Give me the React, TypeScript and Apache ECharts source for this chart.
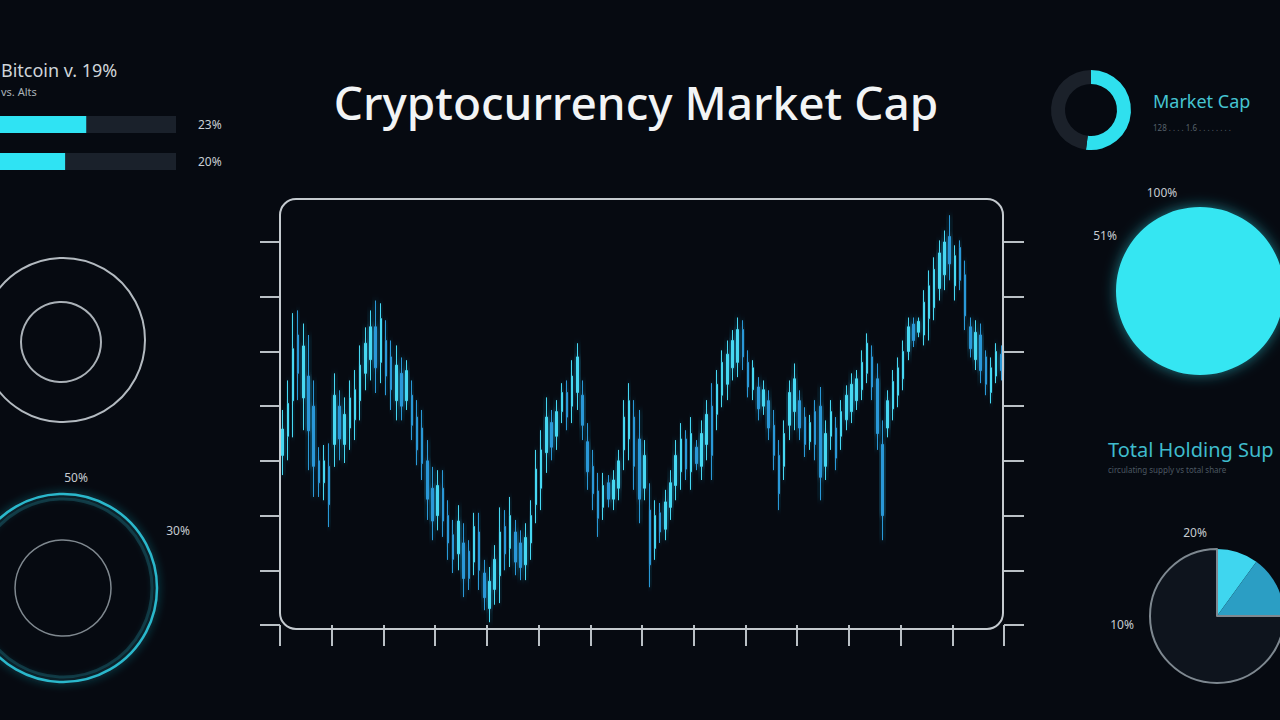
import React, { useEffect, useRef } from "react";
import * as echarts from "echarts";

// ---- Main candlestick data (value units) ----
const opens = [
  310, 345, 410, 530, 415, 455, 400, 300, 260, 290,
  330, 400, 330, 360, 375, 410, 460, 485, 545, 480,
  520, 490, 410, 460, 410, 420, 380, 360, 300, 250,
  200, 250, 200, 165, 130, 150, 135, 115, 170, 95,
  30, 65, 90, 180, 140, 170, 150, 110, 150, 220,
  250, 315, 370, 345, 390, 425, 400, 425, 420, 335,
  290, 245, 215, 260, 230, 250, 320, 340, 380, 340,
  250, 210, 140, 205, 175, 215, 255, 280, 340, 280,
  325, 290, 330, 400, 385, 420, 440, 470, 480, 540,
  480, 430, 435, 400, 410, 365, 310, 290, 365, 390,
  410, 380, 335, 390, 400, 290, 345, 360, 345, 375,
  390, 410, 430, 460, 490, 450, 330, 360, 395, 420,
  450, 500, 550, 535, 530, 560, 580, 615, 640, 710,
  620, 690, 640, 545, 485, 530, 490, 425, 455, 495,
];
const closes = [
  358, 405, 505, 460, 510, 355, 290, 260, 300, 220,
  420, 340, 385, 415, 430, 475, 515, 545, 470, 560,
  455, 430, 475, 400, 465, 365, 320, 295, 230, 190,
  255, 190, 150, 120, 190, 85, 85, 180, 100, 50,
  80, 120, 170, 130, 200, 115, 105, 160, 200, 285,
  320, 380, 325, 390, 425, 380, 455, 490, 365, 280,
  240, 195, 255, 230, 265, 300, 380, 410, 290, 230,
  310, 110, 200, 170, 225, 260, 310, 340, 285, 350,
  295, 350, 385, 310, 440, 480, 495, 520, 540, 490,
  435, 470, 395, 430, 360, 310, 240, 350, 425, 450,
  360, 330, 370, 330, 270, 350, 390, 305, 390, 420,
  440, 450, 480, 515, 435, 350, 200, 410, 445, 470,
  500, 545, 520, 555, 590, 620, 650, 680, 700, 660,
  675, 630, 565, 505, 535, 465, 440, 470, 500, 465,
];
const lows = [
  274, 301, 343, 411, 356, 283, 234, 234, 228, 179,
  289, 301, 296, 320, 338, 374, 429, 447, 424, 442,
  420, 393, 374, 374, 393, 338, 292, 265, 192, 155,
  173, 161, 119, 95, 100, 51, 64, 91, 64, 27,
  5, 37, 40, 100, 106, 91, 82, 82, 119, 186,
  210, 278, 301, 320, 369, 356, 369, 393, 338, 247,
  210, 161, 192, 215, 210, 228, 283, 301, 247, 186,
  228, 69, 119, 150, 155, 192, 228, 247, 265, 247,
  283, 265, 301, 265, 356, 398, 411, 447, 453, 466,
  416, 411, 374, 384, 338, 283, 210, 265, 338, 356,
  338, 307, 320, 301, 228, 265, 320, 283, 320, 356,
  369, 393, 411, 442, 411, 320, 155, 343, 374, 398,
  429, 484, 508, 526, 511, 520, 557, 593, 612, 630,
  593, 612, 539, 489, 466, 442, 420, 405, 442, 447,
];
const highs = [
  393, 447, 570, 575, 551, 530, 447, 325, 329, 332,
  460, 429, 416, 447, 466, 511, 544, 575, 593, 588,
  557, 520, 511, 489, 484, 447, 411, 393, 338, 289,
  283, 283, 228, 192, 219, 186, 155, 205, 205, 119,
  106, 146, 215, 210, 234, 192, 173, 186, 228, 320,
  356, 416, 393, 411, 442, 447, 484, 515, 447, 369,
  320, 278, 278, 274, 283, 320, 411, 442, 411, 393,
  338, 259, 228, 223, 247, 283, 338, 369, 356, 380,
  338, 374, 411, 442, 466, 502, 520, 539, 562, 557,
  502, 484, 453, 447, 429, 393, 338, 374, 447, 478,
  429, 398, 384, 411, 435, 374, 411, 380, 411, 438,
  460, 466, 502, 533, 511, 478, 374, 429, 466, 489,
  520, 562, 562, 562, 612, 648, 672, 703, 721, 749,
  694, 703, 666, 562, 557, 551, 502, 489, 515, 511,
];
const yMin = 0;
const yMax = 700;
const yStep = 100;
const xTickMax = 14;

// ---- Side widgets ----
const barCategories = ["BTC", "ALT"];
const barValues = [49, 37];
const barLabels = ["23%", "20%"];
const donutValues = [52, 48];
const fullPieValues = [100];
const fullPieLabels = ["100%", "51%"];
const partPieValues = [10, 15, 75];
const partPieLabels = ["20%", "10%"];
const ringLabels = ["50%", "30%"];

const BG = "#060a11";
const AXIS = "#b9c0c5";

function buildOption(): any {
  const candleData = opens.map((o, i) => [o, closes[i], lows[i], highs[i]]);
  const candleCats = opens.map((_, i) => String(i + 1));
  const txt = (x: number, y: number, text: string, size: number, fill: string, extra: any = {}) => ({
    type: "text",
    x,
    y,
    style: { text, fontSize: size, fill, fontFamily: "Noto Sans", verticalAlign: "middle", ...extra },
    silent: true,
  });
  const ring = (cx: number, cy: number, r: number, stroke: string, lw: number, extra: any = {}) => ({
    type: "circle",
    shape: { cx, cy, r },
    style: { fill: "none", stroke, lineWidth: lw, ...extra },
    silent: true,
  });
  return {
    animation: false,
    backgroundColor: BG,
    grid: [
      { left: 280, right: 276, top: 242, bottom: 95 },
      { left: 0, width: 176, top: 106, height: 74 },
    ],
    xAxis: [
      { type: "category", gridIndex: 0, data: candleCats, boundaryGap: true, show: false },
      {
        type: "value",
        gridIndex: 0,
        min: 0,
        max: xTickMax,
        interval: 1,
        position: "bottom",
        offset: 4,
        axisLine: { show: false },
        axisTick: { show: true, length: 21, lineStyle: { color: AXIS, width: 2 } },
        axisLabel: { show: false },
        splitLine: { show: false },
      },
      { type: "value", gridIndex: 1, min: 0, max: 100, show: false },
    ],
    yAxis: [
      {
        type: "value",
        gridIndex: 0,
        min: yMin,
        max: yMax,
        interval: yStep,
        position: "left",
        axisLine: { show: false },
        axisTick: { show: true, length: 20, lineStyle: { color: AXIS, width: 2 } },
        axisLabel: { show: false },
        splitLine: { show: false },
      },
      {
        type: "value",
        gridIndex: 0,
        min: yMin,
        max: yMax,
        interval: yStep,
        position: "right",
        axisLine: { show: false },
        axisTick: { show: true, length: 20, lineStyle: { color: AXIS, width: 2 } },
        axisLabel: { show: false },
        splitLine: { show: false },
      },
      { type: "category", gridIndex: 1, data: barCategories, inverse: true, show: false },
      {
        type: "category",
        gridIndex: 1,
        data: barLabels,
        inverse: true,
        position: "right",
        axisLine: { show: false },
        axisTick: { show: false },
        axisLabel: { margin: 22, color: "#c9cfd4", fontSize: 12, fontFamily: "Noto Sans" },
      },
    ],
    series: [
      {
        type: "candlestick",
        xAxisIndex: 0,
        yAxisIndex: 0,
        data: candleData,
        barWidth: 2,
        clip: false,
        silent: true,
        itemStyle: {
          color: "#46d8f2",
          color0: "#2b98d8",
          borderColor: "#46d8f2",
          borderColor0: "#2b98d8",
          borderWidth: 1,
          shadowBlur: 6,
          shadowColor: "rgba(40,200,255,0.75)",
        },
      },
      {
        type: "bar",
        xAxisIndex: 2,
        yAxisIndex: 2,
        data: barValues,
        barWidth: 17,
        showBackground: true,
        backgroundStyle: { color: "#1a212b" },
        itemStyle: { color: "#2fe3f3" },
        silent: true,
      },
      {
        type: "pie",
        center: [1091, 110],
        radius: [26, 40],
        startAngle: 90,
        clockwise: true,
        silent: true,
        label: { show: false },
        labelLine: { show: false },
        data: donutValues.map((v, i) => ({
          value: v,
          itemStyle: { color: i === 0 ? "#2fe0ee" : "#1b212a" },
        })),
      },
      {
        type: "pie",
        center: [1200, 291],
        radius: 84,
        silent: true,
        label: { show: false },
        labelLine: { show: false },
        data: fullPieValues.map((v) => ({
          value: v,
          itemStyle: { color: "#36e6f2", shadowBlur: 14, shadowColor: "rgba(50,230,245,0.5)" },
        })),
      },
      {
        type: "pie",
        center: [1217, 616],
        radius: 67,
        startAngle: 90,
        clockwise: true,
        silent: true,
        label: { show: false },
        labelLine: { show: false },
        data: partPieValues.map((v, i) => ({
          value: v,
          itemStyle:
            i === 0
              ? { color: "#3fd6ef" }
              : i === 1
              ? { color: "#2b9ec4" }
              : { color: "#0e141d", borderColor: "#7e8890", borderWidth: 2 },
        })),
      },
    ],
    graphic: [
      {
        type: "rect",
        shape: { x: 280, y: 199, width: 723, height: 430, r: 16 },
        style: { fill: "none", stroke: "#c4cacf", lineWidth: 2 },
        silent: true,
        z: 10,
      },
      txt(636, 102, "Cryptocurrency Market Cap", 46, "#f2f4f5", { textAlign: "center", fontWeight: 500 }),
      txt(1, 70, "Bitcoin v. 19%", 18, "#cfd5d9"),
      txt(1, 91, "vs. Alts", 11, "#aab2b8"),
      txt(1153, 101, "Market Cap", 18, "#45c4d2"),
      txt(1153, 127, "128 . . . . 1.6 . . . . . . . .", 8, "#56616b"),
      txt(1162, 192, fullPieLabels[0], 12, "#c5cbd0", { textAlign: "center" }),
      txt(1105, 235, fullPieLabels[1], 12, "#c5cbd0", { textAlign: "center" }),
      txt(1108, 449, "Total Holding Sup", 20, "#3fbccc"),
      txt(1108, 469, "circulating supply vs total share", 8, "#4c5862"),
      txt(1195, 532, partPieLabels[0], 12, "#c5cbd0", { textAlign: "center" }),
      txt(1122, 624, partPieLabels[1], 12, "#c5cbd0", { textAlign: "center" }),
      txt(76, 477, ringLabels[0], 12, "#c5cbd0", { textAlign: "center" }),
      txt(178, 530, ringLabels[1], 12, "#c5cbd0", { textAlign: "center" }),
      ring(63, 340, 82, "#b3bac0", 2),
      ring(61, 342, 40, "#aab1b7", 2),
      ring(63, 588, 89, "#12303a", 3),
      ring(63, 588, 94, "#2bb8cc", 2.5, { shadowBlur: 8, shadowColor: "rgba(40,200,220,0.6)" }),
      ring(63, 588, 48, "#7f888f", 1.5),
    ],
  };
}

export default function App() {
  const ref = useRef<HTMLDivElement>(null);
  useEffect(() => {
    if (!ref.current) return;
    const chart = echarts.init(ref.current, null, { renderer: "svg" });
    chart.setOption(buildOption());
    return () => chart.dispose();
  }, []);
  return (
    <div
      ref={ref}
      style={{ position: "absolute", left: 0, top: 0, width: 1280, height: 720, background: BG }}
    />
  );
}
